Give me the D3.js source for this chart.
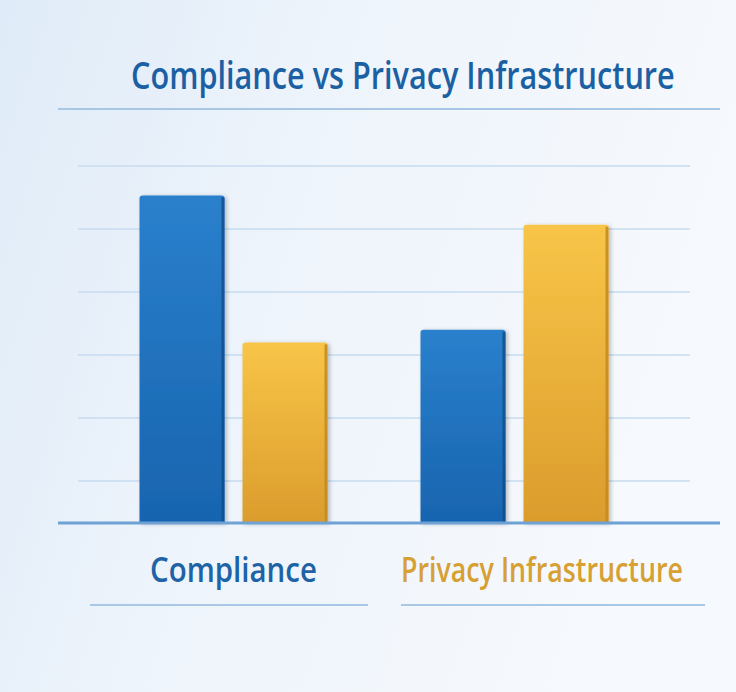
<!DOCTYPE html>
<html><head><meta charset="utf-8">
<script src="https://cdn.jsdelivr.net/npm/d3@7/dist/d3.min.js"></script>
<style>html,body{margin:0;padding:0;overflow:hidden;}svg{display:block;}</style>
</head><body>
<script>
const categories = ["Compliance", "Privacy Infrastructure"];
const seriesNames = ["Blue", "Gold"];
const blueValues = [78, 46];
const goldValues = [43, 71];
const gridValues = [10, 25, 40, 55, 70, 85];
const titleText = "Compliance vs Privacy Infrastructure";

const W = 736, H = 692;
const svg = d3.select("body").append("svg").attr("width", W).attr("height", H);
const defs = svg.append("defs");

const bg = defs.append("linearGradient").attr("id","bg").attr("x1","0").attr("y1","0").attr("x2","1").attr("y2","0.3");
bg.append("stop").attr("offset","0").attr("stop-color","#dfebf8");
bg.append("stop").attr("offset","0.45").attr("stop-color","#eef4fb");
bg.append("stop").attr("offset","1").attr("stop-color","#f6f9fd");
const gb = defs.append("linearGradient").attr("id","gBlue").attr("x1","0").attr("y1","0").attr("x2","0").attr("y2","1");
gb.append("stop").attr("offset","0").attr("stop-color","#2a80cc");
gb.append("stop").attr("offset","1").attr("stop-color","#1864af");
const gy = defs.append("linearGradient").attr("id","gGold").attr("x1","0").attr("y1","0").attr("x2","0").attr("y2","1");
gy.append("stop").attr("offset","0").attr("stop-color","#f8c548");
gy.append("stop").attr("offset","1").attr("stop-color","#db9c2c");
const sh = defs.append("filter").attr("id","shadow").attr("x","-20%").attr("y","-10%").attr("width","140%").attr("height","120%");
sh.append("feGaussianBlur").attr("in","SourceAlpha").attr("stdDeviation","2");
sh.append("feOffset").attr("dx","2").attr("dy","1").attr("result","b");
sh.append("feComponentTransfer").append("feFuncA").attr("type","linear").attr("slope","0.25");
const m = sh.append("feMerge"); m.append("feMergeNode"); m.append("feMergeNode").attr("in","SourceGraphic");

svg.append("rect").attr("width",W).attr("height",H).attr("fill","url(#bg)");

const y = d3.scaleLinear().domain([0,100]).range([523,103]);
const x0 = d3.scaleBand().domain(categories).range([93,655]).padding(0);
const x1 = d3.scaleBand().domain(seriesNames).range([46.5, x0.bandwidth()-46.5]).paddingInner(0.175).paddingOuter(0);

// helper: draw text squeezed horizontally to a target width via transform
function fitText(str, left, baseline, size, width, color) {
  const g = svg.append("g");
  const t = g.append("text").attr("x",0).attr("y",0).text(str)
    .attr("font-family","Open Sans").attr("font-weight",600).attr("font-size",size)
    .attr("fill",color);
  const natural = t.node().getComputedTextLength();
  g.attr("transform",`translate(${left},${baseline}) scale(${width/natural},1)`);
  return g;
}

// title
fitText(titleText, 131, 88.5, 37, 544, "#1b60a3");
svg.append("line").attr("x1",58).attr("x2",720).attr("y1",109).attr("y2",109)
  .attr("stroke","#a8c7e5").attr("stroke-width",2);

// grid
svg.append("g").selectAll("line").data(gridValues).join("line")
  .attr("x1",78).attr("x2",690).attr("y1",d=>y(d)).attr("y2",d=>y(d))
  .attr("stroke","#c6dbef").attr("stroke-width",1.5);

// bars
const data = categories.map((c,i)=>({cat:c, vals:[{s:"Blue",v:blueValues[i]},{s:"Gold",v:goldValues[i]}]}));
const groups = svg.append("g").selectAll("g").data(data).join("g")
  .attr("transform",d=>`translate(${x0(d.cat)},0)`);
const bars = groups.selectAll("g").data(d=>d.vals).join("g").attr("filter","url(#shadow)");
bars.append("path").attr("d",d=>{
  const bx=x1(d.s), bw=x1.bandwidth(), t=y(d.v), b=y(0), r=3;
  return `M${bx},${b}V${t+r}Q${bx},${t} ${bx+r},${t}H${bx+bw-r}Q${bx+bw},${t} ${bx+bw},${t+r}V${b}Z`;
}).attr("fill",d=>d.s==="Blue"?"url(#gBlue)":"url(#gGold)");
bars.append("rect").attr("x",d=>x1(d.s)+x1.bandwidth()-3).attr("y",d=>y(d.v)+2)
  .attr("width",3).attr("height",d=>y(0)-y(d.v)-2)
  .attr("fill",d=>d.s==="Blue"?"#0f4f8e":"#c38a1e").attr("opacity",0.85);

// baseline
svg.append("line").attr("x1",58).attr("x2",720).attr("y1",523).attr("y2",523)
  .attr("stroke","#6ea2d5").attr("stroke-width",3);

// category labels
const labelInfo = [
  {left:150, w:167, color:"#1d63a6", ux1:90, ux2:368},
  {left:401, w:282, color:"#d6a033", ux1:401, ux2:705}
];
categories.forEach((c,i)=>{
  fitText(c, labelInfo[i].left, 581.5, 34, labelInfo[i].w, labelInfo[i].color);
  svg.append("line").attr("x1",labelInfo[i].ux1).attr("x2",labelInfo[i].ux2).attr("y1",605).attr("y2",605)
    .attr("stroke","#a9c8e6").attr("stroke-width",2);
});
</script>
</body></html>
